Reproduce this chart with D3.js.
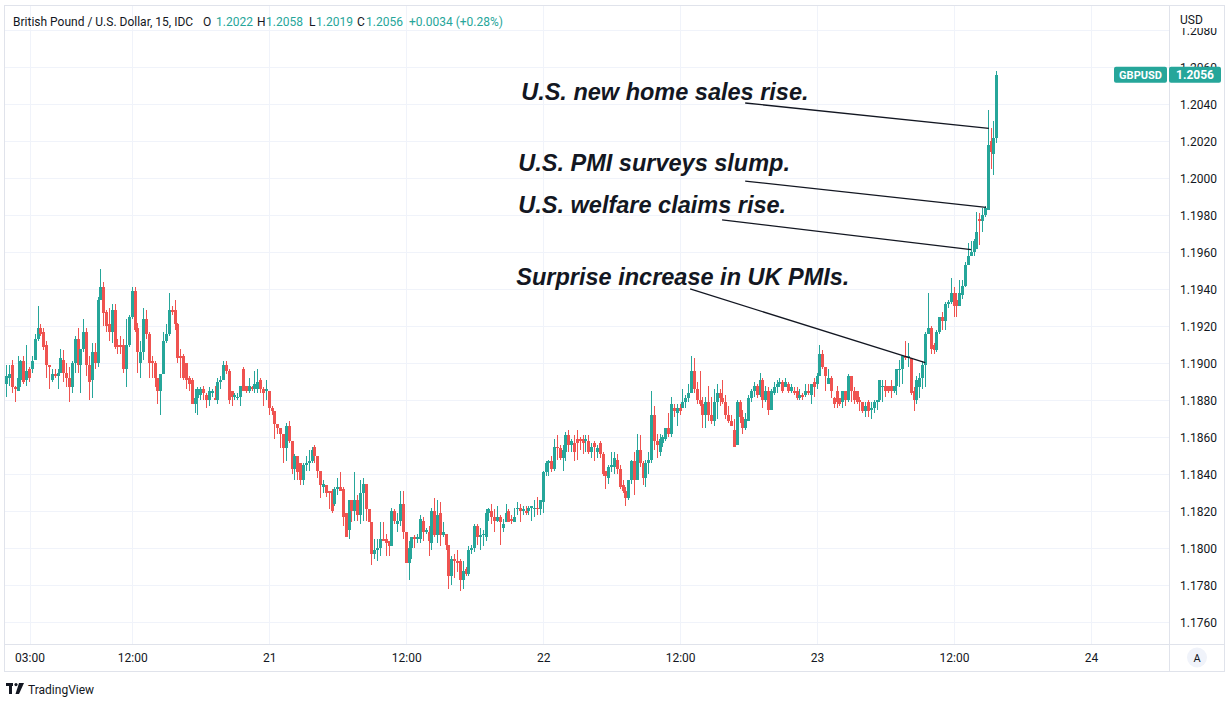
<!DOCTYPE html>
<html>
<head>
<meta charset="utf-8">
<script src="https://cdn.jsdelivr.net/npm/d3@7"></script>
<style>
  body { margin: 0; background: #fff; }
  svg { display: block; font-family: Roboto, "Liberation Sans", sans-serif; }
</style>
</head>
<body>
<div id="chart"></div>
<script>
// GBPUSD 15 min candles, prices written in 1/10000 above 1.0 (1889 = 1.1889)
// each row: [open, high, low, close]
const ohlc = [
  [1889,1899,1882,1893],[1892,1899,1888,1894],[1899,1902,1884,1887],[1887,1888,1879,1886],[1885,1904,1885,1892],
  [1891,1902,1887,1901],[1901,1904,1889,1890],[1891,1910,1888,1896],[1897,1898,1890,1892],[1897,1904,1895,1901],
  [1902,1916,1902,1913],[1913,1931,1912,1919],[1919,1921,1915,1916],[1917,1919,1907,1909],[1910,1912,1892,1899],
  [1899,1899,1886,1898],[1891,1897,1890,1894],[1894,1897,1892,1893],[1893,1897,1886,1895],[1895,1908,1895,1903],
  [1902,1907,1890,1895],[1895,1900,1887,1892],[1892,1898,1879,1887],[1887,1901,1884,1900],[1900,1915,1895,1913],
  [1913,1919,1895,1899],[1899,1908,1884,1908],[1908,1924,1906,1917],[1917,1919,1893,1899],[1899,1904,1880,1890],
  [1891,1911,1881,1906],[1906,1911,1897,1900],[1900,1936,1898,1934],[1934,1951,1934,1941],[1941,1944,1920,1927],
  [1928,1929,1917,1920],[1921,1930,1912,1917],[1917,1932,1911,1929],[1929,1932,1908,1909],[1910,1913,1905,1909],
  [1910,1915,1905,1909],[1910,1913,1895,1897],[1897,1924,1887,1910],[1910,1926,1909,1925],[1925,1941,1924,1939],
  [1939,1941,1917,1918],[1919,1922,1895,1906],[1900,1912,1892,1906],[1906,1930,1902,1924],[1924,1929,1913,1916],
  [1916,1917,1892,1900],[1901,1904,1892,1900],[1900,1901,1887,1892],[1892,1892,1878,1885],[1885,1894,1872,1894],
  [1894,1917,1894,1912],[1912,1921,1911,1916],[1916,1938,1915,1929],[1929,1931,1926,1928],[1929,1934,1918,1921],
  [1921,1922,1900,1903],[1904,1908,1892,1903],[1904,1905,1891,1892],[1900,1900,1886,1891],[1892,1893,1885,1889],
  [1891,1892,1878,1878],[1878,1886,1873,1881],[1881,1887,1872,1886],[1883,1887,1880,1886],[1886,1888,1880,1884],
  [1883,1884,1876,1880],[1880,1887,1877,1885],[1884,1886,1882,1885],[1881,1888,1880,1880],[1880,1892,1878,1890],
  [1890,1893,1886,1891],[1891,1901,1891,1899],[1899,1901,1894,1896],[1896,1897,1878,1880],[1885,1885,1877,1882],
  [1882,1884,1880,1883],[1882,1884,1880,1882],[1882,1888,1877,1888],[1897,1898,1885,1885],[1888,1888,1884,1885],
  [1885,1892,1884,1888],[1887,1888,1885,1886],[1886,1896,1884,1889],[1886,1897,1884,1890],[1891,1892,1884,1886],
  [1886,1887,1877,1884],[1885,1891,1880,1886],[1885,1885,1872,1876],[1876,1877,1872,1874],[1874,1874,1859,1867],
  [1867,1867,1862,1865],[1865,1865,1854,1862],[1862,1862,1846,1854],[1854,1868,1847,1866],[1866,1869,1857,1858],
  [1858,1858,1840,1843],[1843,1851,1837,1850],[1850,1850,1837,1841],[1846,1846,1834,1837],[1837,1846,1834,1845],
  [1845,1850,1842,1846],[1846,1853,1842,1847],[1847,1855,1846,1853],[1855,1856,1846,1850],[1850,1850,1838,1842],
  [1842,1842,1827,1834],[1833,1837,1830,1835],[1834,1834,1828,1830],[1831,1831,1821,1830],[1831,1832,1819,1820],
  [1824,1833,1823,1832],[1832,1838,1829,1833],[1833,1841,1831,1831],[1832,1833,1812,1817],[1819,1819,1806,1806],
  [1810,1826,1805,1826],[1826,1826,1814,1820],[1820,1841,1815,1826],[1826,1829,1815,1818],[1818,1837,1813,1830],
  [1830,1838,1815,1835],[1835,1835,1815,1821],[1821,1821,1814,1814],[1814,1814,1791,1797],[1797,1805,1794,1799],
  [1799,1805,1793,1800],[1800,1814,1796,1805],[1805,1814,1804,1804],[1805,1808,1796,1803],[1804,1804,1796,1801],
  [1801,1822,1801,1820],[1820,1821,1813,1815],[1813,1819,1809,1815],[1815,1831,1812,1824],[1824,1831,1805,1809],
  [1809,1809,1792,1792],[1792,1804,1783,1800],[1800,1806,1794,1806],[1806,1807,1800,1805],[1805,1808,1803,1806],
  [1805,1818,1803,1816],[1815,1817,1804,1809],[1809,1811,1808,1810],[1809,1812,1796,1804],[1803,1822,1799,1820],
  [1820,1827,1806,1807],[1807,1826,1803,1818],[1819,1825,1801,1807],[1807,1814,1806,1809],[1808,1808,1799,1802],
  [1802,1802,1778,1785],[1785,1796,1780,1794],[1794,1797,1784,1793],[1793,1799,1787,1792],[1793,1794,1777,1783],
  [1783,1793,1778,1788],[1789,1790,1785,1786],[1786,1801,1785,1799],[1799,1802,1797,1800],[1800,1813,1798,1812],
  [1812,1813,1802,1806],[1806,1811,1799,1807],[1807,1810,1801,1808],[1806,1821,1804,1819],[1819,1822,1815,1821],
  [1820,1824,1813,1817],[1817,1821,1809,1815],[1815,1823,1814,1817],[1817,1818,1802,1814],[1811,1816,1809,1813],
  [1814,1824,1814,1819],[1820,1821,1814,1814],[1816,1818,1813,1815],[1814,1822,1814,1817],[1821,1825,1818,1822],
  [1822,1824,1814,1820],[1820,1823,1818,1821],[1820,1823,1818,1819],[1820,1823,1818,1822],[1822,1823,1815,1823],
  [1821,1826,1817,1822],[1822,1828,1818,1821],[1821,1826,1818,1826],[1825,1842,1819,1841],[1841,1847,1839,1846],
  [1846,1848,1839,1847],[1847,1850,1841,1843],[1843,1859,1842,1855],[1855,1861,1848,1854],[1854,1856,1848,1849],
  [1849,1856,1842,1853],[1852,1863,1847,1861],[1861,1864,1852,1856],[1856,1859,1852,1858],[1857,1861,1847,1852],
  [1859,1864,1848,1857],[1859,1860,1853,1858],[1859,1861,1851,1857],[1858,1861,1852,1859],[1858,1861,1851,1852],
  [1852,1857,1849,1855],[1857,1858,1847,1855],[1852,1856,1849,1854],[1857,1858,1849,1851],[1851,1852,1839,1840],
  [1842,1842,1832,1839],[1838,1845,1835,1844],[1844,1852,1841,1845],[1844,1852,1840,1849],[1848,1851,1840,1843],
  [1843,1845,1832,1833],[1834,1837,1830,1831],[1831,1833,1823,1827],[1827,1837,1826,1837],[1837,1848,1835,1847],
  [1847,1852,1829,1837],[1837,1862,1837,1853],[1853,1861,1844,1846],[1846,1847,1834,1838],[1838,1848,1833,1846],
  [1846,1852,1840,1848],[1848,1885,1846,1872],[1872,1877,1853,1858],[1858,1862,1849,1856],[1852,1862,1850,1859],
  [1857,1861,1855,1860],[1859,1865,1858,1865],[1865,1873,1860,1862],[1862,1882,1860,1878],[1876,1878,1871,1874],
  [1873,1878,1866,1876],[1876,1878,1872,1874],[1876,1886,1876,1879],[1879,1883,1876,1881],[1881,1889,1879,1884],
  [1884,1904,1884,1896],[1896,1903,1884,1886],[1886,1890,1878,1880],[1880,1896,1877,1878],[1878,1882,1865,1872],
  [1872,1882,1865,1879],[1879,1888,1869,1872],[1872,1882,1867,1869],[1869,1886,1866,1879],[1879,1889,1870,1884],
  [1884,1886,1877,1881],[1881,1891,1878,1879],[1879,1883,1870,1872],[1872,1877,1868,1869],[1869,1872,1866,1866],
  [1864,1870,1855,1855],[1856,1880,1856,1879],[1879,1880,1868,1871],[1871,1875,1862,1865],[1865,1873,1864,1870],
  [1869,1883,1869,1881],[1881,1886,1879,1885],[1885,1890,1882,1888],[1888,1889,1881,1883],[1883,1895,1882,1891],
  [1891,1892,1876,1880],[1880,1888,1879,1885],[1885,1887,1872,1875],[1875,1886,1875,1885],[1884,1890,1883,1887],
  [1887,1891,1884,1889],[1889,1892,1887,1890],[1890,1891,1884,1885],[1887,1892,1887,1890],[1889,1890,1884,1885],
  [1885,1889,1884,1887],[1885,1887,1883,1884],[1885,1887,1880,1881],[1881,1886,1880,1883],[1883,1884,1880,1882],
  [1883,1889,1882,1885],[1885,1889,1883,1884],[1883,1889,1878,1889],[1890,1892,1882,1887],[1889,1895,1886,1893],
  [1893,1910,1893,1905],[1905,1907,1897,1898],[1898,1898,1885,1893],[1889,1897,1889,1892],[1892,1893,1881,1885],
  [1881,1882,1876,1878],[1885,1888,1876,1879],[1881,1881,1877,1878],[1879,1885,1876,1885],[1885,1885,1877,1880],
  [1880,1894,1879,1893],[1893,1893,1879,1885],[1885,1887,1878,1880],[1885,1885,1878,1879],[1880,1882,1874,1879],
  [1879,1879,1873,1874],[1874,1879,1871,1877],[1879,1880,1871,1874],[1875,1879,1870,1876],[1876,1880,1873,1879],
  [1879,1880,1875,1880],[1880,1891,1879,1891],[1887,1891,1879,1888],[1888,1891,1882,1885],[1888,1888,1884,1885],
  [1888,1891,1881,1885],[1885,1888,1884,1888],[1888,1897,1883,1897],[1897,1902,1887,1897],[1897,1904,1889,1904],
  [1904,1912,1902,1903],[1903,1911,1898,1904],[1903,1903,1883,1884],[1885,1887,1874,1880],[1880,1893,1878,1891],
  [1887,1895,1881,1892],[1892,1901,1886,1899],[1899,1917,1887,1916],[1916,1938,1916,1919],[1919,1920,1905,1908],
  [1910,1911,1905,1907],[1907,1918,1906,1917],[1917,1925,1916,1925],[1925,1928,1918,1923],[1923,1933,1918,1932],
  [1932,1934,1930,1933],[1933,1946,1932,1938],[1938,1941,1925,1931],[1934,1938,1925,1931],[1931,1945,1931,1938],
  [1937,1945,1935,1942],[1942,1955,1941,1953],[1953,1965,1953,1958],[1958,1966,1958,1960],[1960,1967,1958,1966],
  [1962,1982,1962,1971],[1978,1981,1964,1977],[1977,1984,1971,1980],[1980,1985,1979,1984],[1983,2037,1983,2018],
  [2020,2027,2005,2014],[2013,2031,2002,2022],[2022,2058,2019,2056]
];

const firstCandle = Date.UTC(2022, 10, 20, 1, 0);   // 20th, 01:00
const barMinutes = 15;

const yTicks = [1.176, 1.178, 1.180, 1.182, 1.184, 1.186, 1.188, 1.190, 1.192, 1.194,
                1.196, 1.198, 1.200, 1.202, 1.204, 1.206, 1.208];

const xTickDates = [
  Date.UTC(2022, 10, 20, 3), Date.UTC(2022, 10, 20, 12), Date.UTC(2022, 10, 21, 0),
  Date.UTC(2022, 10, 21, 12), Date.UTC(2022, 10, 22, 0), Date.UTC(2022, 10, 22, 12),
  Date.UTC(2022, 10, 23, 0), Date.UTC(2022, 10, 23, 12), Date.UTC(2022, 10, 24, 0)
];
const xTickLabels = ["03:00", "12:00", "21", "12:00", "22", "12:00", "23", "12:00", "24"];

// annotations: text anchored at (candle index, price), line from start to end
const noteTexts = ["U.S. new home sales rise.", "U.S. PMI surveys slump.",
                   "U.S. welfare claims rise.", "Surprise increase in UK PMIs."];
const noteTextAt = [[180.3, 1.20423], [179.3, 1.20040], [179.3, 1.19813], [178.6, 1.19423]];
const noteLineFrom = [[258.8, 1.20407], [258.8, 1.19985], [250.7, 1.19775], [239.5, 1.19402]];
const noteLineTo = [[344.2, 1.20270], [343.2, 1.19843], [338.0, 1.19615], [321.9, 1.19003]];

const header = {
  name: "British Pound / U.S. Dollar, 15, IDC",
  o: "1.2022", h: "1.2058", l: "1.2019", c: "1.2056", chg: "+0.0034 (+0.28%)"
};
const lastPrice = "1.2056";
const symbol = "GBPUSD";

const up = "#26a69a", down = "#ef5350";
const W = 1226, H = 703;
const plot = {left: 5, right: 1169, top: 6, bottom: 644};

const candles = ohlc.map((r, i) => ({
  t: new Date(firstCandle + i * barMinutes * 60000),
  o: 1 + r[0] / 10000, h: 1 + r[1] / 10000, l: 1 + r[2] / 10000, c: 1 + r[3] / 10000
}));
const timeAt = i => new Date(firstCandle + i * barMinutes * 60000);

const svg = d3.select("#chart").append("svg")
    .attr("width", W)
    .attr("height", H);

const x = d3.scaleUtc()
    .domain([Date.UTC(2022, 10, 20, 0, 51), Date.UTC(2022, 10, 24, 6, 50)])
    .range([plot.left, plot.right]);

const y = d3.scaleLinear()
    .domain([1.176, 1.200])
    .range([622.3, 178.3]);

// grid
const grid = svg.append("g");
grid.selectAll(".hg")
    .data(yTicks)
    .join("line")
    .attr("x1", plot.left).attr("x2", plot.right)
    .attr("y1", d => Math.round(y(d)) + 0.5).attr("y2", d => Math.round(y(d)) + 0.5)
    .attr("stroke", "#f0f3fa");
grid.selectAll(".vg")
    .data(xTickDates)
    .join("line")
    .attr("x1", d => Math.round(x(d)) + 0.5).attr("x2", d => Math.round(x(d)) + 0.5)
    .attr("y1", plot.top).attr("y2", plot.bottom)
    .attr("stroke", "#f0f3fa");

// candles
const cg = svg.append("g").attr("shape-rendering", "crispEdges");
cg.selectAll(".wick")
    .data(candles)
    .join("rect")
    .attr("x", d => Math.floor(x(d.t)))
    .attr("width", 1)
    .attr("y", d => y(Math.max(d.h, d.o, d.c)))
    .attr("height", d => Math.max(1, y(Math.min(d.l, d.o, d.c)) - y(Math.max(d.h, d.o, d.c))))
    .attr("fill", d => d.c >= d.o ? up : down);
cg.selectAll(".body")
    .data(candles)
    .join("rect")
    .attr("x", d => Math.floor(x(d.t)) - 1)
    .attr("width", 3)
    .attr("y", d => y(Math.max(d.o, d.c)))
    .attr("height", d => Math.max(1, Math.abs(y(d.o) - y(d.c))))
    .attr("fill", d => d.c >= d.o ? up : down);

// annotation lines and texts
const notes = svg.append("g");
notes.selectAll("line")
    .data(noteTexts)
    .join("line")
    .attr("x1", (d, i) => x(timeAt(noteLineFrom[i][0])))
    .attr("y1", (d, i) => y(noteLineFrom[i][1]))
    .attr("x2", (d, i) => x(timeAt(noteLineTo[i][0])))
    .attr("y2", (d, i) => y(noteLineTo[i][1]))
    .attr("stroke", "#131722")
    .attr("stroke-width", 1.3);
notes.selectAll("text")
    .data(noteTexts)
    .join("text")
    .attr("x", (d, i) => x(timeAt(noteTextAt[i][0])))
    .attr("y", (d, i) => y(noteTextAt[i][1]))
    .attr("font-family", "'Liberation Sans', Arial, sans-serif")
    .attr("font-style", "italic")
    .attr("font-weight", "bold")
    .style("font-size", "23.5px")
    .attr("fill", "#131722")
    .text(d => d);

// right price axis
const yAxis = svg.append("g")
    .attr("transform", "translate(1169,0)")
    .call(d3.axisRight(y).tickValues(yTicks).tickSize(0).tickPadding(11).tickFormat(d3.format(".4f")));
yAxis.select(".domain").remove();
yAxis.selectAll("text")
    .attr("fill", "#131722")
    .style("font-size", "12px")
    .style("font-family", "Roboto, sans-serif");

// currency caption sits on a white strip that hides most of the top tick
svg.append("rect").attr("x", 1170).attr("y", 6).attr("width", 54).attr("height", 22).attr("fill", "#fff");
svg.append("text")
    .attr("x", 1180).attr("y", 24)
    .attr("fill", "#131722")
    .style("font-size", "12px")
    .text("USD");

// frames
const frame = svg.append("g").attr("fill", "none").attr("stroke", "#e0e3eb").attr("shape-rendering", "crispEdges");
frame.append("rect").attr("x", 4.5).attr("y", 5.5).attr("width", 1220).attr("height", 666);
frame.append("line").attr("x1", 1169.5).attr("x2", 1169.5).attr("y1", 5.5).attr("y2", 671.5);
frame.append("line").attr("x1", 4.5).attr("x2", 1224.5).attr("y1", 644.5).attr("y2", 644.5);

// last price labels
const ly = y(1 + ohlc[ohlc.length - 1][3] / 10000);
svg.append("rect").attr("x", 1114).attr("y", ly - 8).attr("width", 53).attr("height", 16).attr("rx", 2).attr("fill", up);
svg.append("text").attr("x", 1140.5).attr("y", ly + 4).attr("text-anchor", "middle")
    .attr("fill", "#fff").style("font-size", "11px").style("font-weight", "bold").text(symbol);
svg.append("rect").attr("x", 1169).attr("y", ly - 8).attr("width", 52).attr("height", 16).attr("rx", 2).attr("fill", up);
svg.append("text").attr("x", 1195).attr("y", ly + 4).attr("text-anchor", "middle")
    .attr("fill", "#fff").style("font-size", "12px").style("font-weight", "bold").text(lastPrice);

// bottom time axis
const xAxis = svg.append("g")
    .attr("transform", `translate(0,${plot.bottom})`)
    .call(d3.axisBottom(x).tickValues(xTickDates).tickSize(0).tickPadding(9)
        .tickFormat((d, i) => xTickLabels[i]));
xAxis.select(".domain").remove();
xAxis.selectAll("text")
    .attr("fill", "#131722")
    .style("font-size", "12px")
    .style("font-family", "Roboto, sans-serif");

// auto-scale button
svg.append("circle").attr("cx", 1197).attr("cy", 657.5).attr("r", 10).attr("fill", "#f0f3fa");
svg.append("text").attr("x", 1197).attr("y", 661.5).attr("text-anchor", "middle")
    .attr("fill", "#131722").style("font-size", "11px").text("A");

// legend line
const legend = svg.append("text").attr("y", 26).style("font-size", "12px").attr("fill", "#131722");
legend.append("tspan").attr("x", 13).text(header.name);
legend.append("tspan").attr("x", 203).text("O");
legend.append("tspan").attr("x", 216).attr("fill", up).text(header.o);
legend.append("tspan").attr("x", 257).text("H");
legend.append("tspan").attr("x", 266).attr("fill", up).text(header.h);
legend.append("tspan").attr("x", 309).text("L");
legend.append("tspan").attr("x", 316).attr("fill", up).text(header.l);
legend.append("tspan").attr("x", 357).text("C");
legend.append("tspan").attr("x", 366).attr("fill", up).text(header.c);
legend.append("tspan").attr("x", 409).attr("fill", up).text(header.chg);

// TradingView mark
const logo = svg.append("g").attr("transform", "translate(6,683)").attr("fill", "#131722");
logo.append("rect").attr("x", 0).attr("y", 0).attr("width", 7).attr("height", 3);
logo.append("rect").attr("x", 3).attr("y", 0).attr("width", 3).attr("height", 11);
logo.append("circle").attr("cx", 10).attr("cy", 1.6).attr("r", 1.6);
logo.append("path").attr("d", "M13,0 L18,0 L13,11 L9.5,11 Z");
svg.append("text").attr("x", 28).attr("y", 694).attr("fill", "#131722")
    .style("font-size", "12px").text("TradingView");
</script>
</body>
</html>
